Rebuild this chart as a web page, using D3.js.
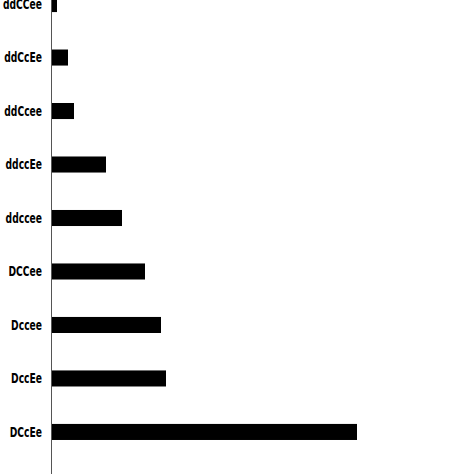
<!DOCTYPE html><html><head><meta charset="utf-8"><script src="https://cdn.jsdelivr.net/npm/d3@7"></script>
<style>body{margin:0;background:#fff}</style></head><body><svg id="c" width="474" height="474"></svg>
<script>
const categories=["ddCCee","ddCcEe","ddCcee","ddccEe","ddccee","DCCee","Dccee","DccEe","DCcEe"];
const values=[1.2,3.4,4.6,11,14.2,18.8,22,23,61.2];
const svg=d3.select("#c");
const x=d3.scaleLinear().domain([0,100]).range([51,551]);
const y=d3.scaleBand().domain(categories).range([-22.7,458.7]).paddingInner(0.7).paddingOuter(0.35);
svg.selectAll("rect").data(categories).join("rect")
 .attr("x",x(0)).attr("y",d=>y(d)).attr("height",y.bandwidth())
 .attr("width",(d,i)=>x(values[i])-x(0)).attr("fill","#000");
svg.append("line").attr("x1",51.5).attr("x2",51.5).attr("y1",0).attr("y2",474).attr("stroke","#555").attr("stroke-width",1);
svg.selectAll("text.l").data(categories).join("text").attr("class","l")
 .attr("x",42).attr("y",d=>y(d)+y.bandwidth()/2).attr("dy","0.35em").attr("text-anchor","end")
 .attr("font-family","DejaVu Sans Condensed").attr("font-weight","bold").attr("font-size",12)
 .attr("transform",d=>`translate(42,${y(d)+y.bandwidth()/2}) scale(0.85,1.1) translate(-42,${-(y(d)+y.bandwidth()/2)})`)
 .text(d=>d);
</script></body></html>
